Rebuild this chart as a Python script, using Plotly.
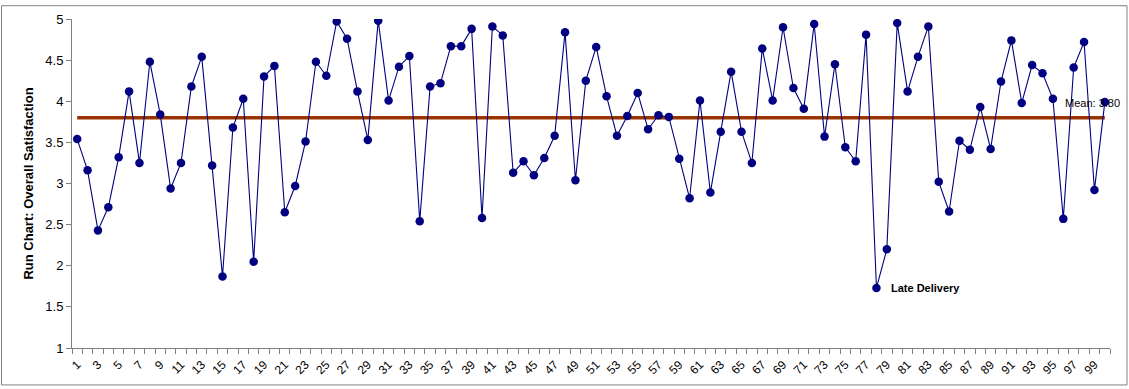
import plotly.graph_objects as go

# ---- data ----
obs = list(range(1, 101))
satisfaction = [
    3.54, 3.16, 2.43, 2.71, 3.32, 4.12, 3.25, 4.48, 3.84, 2.94,
    3.25, 4.18, 4.54, 3.22, 1.87, 3.68, 4.03, 2.05, 4.30, 4.43,
    2.65, 2.97, 3.51, 4.48, 4.31, 4.97, 4.76, 4.12, 3.53, 4.98,
    4.01, 4.42, 4.55, 2.54, 4.18, 4.22, 4.67, 4.67, 4.88, 2.58,
    4.91, 4.80, 3.13, 3.27, 3.10, 3.31, 3.58, 4.84, 3.04, 4.25,
    4.66, 4.06, 3.58, 3.82, 4.10, 3.66, 3.83, 3.81, 3.30, 2.82,
    4.01, 2.89, 3.63, 4.36, 3.63, 3.25, 4.64, 4.01, 4.90, 4.16,
    3.91, 4.94, 3.57, 4.45, 3.44, 3.27, 4.81, 1.73, 2.20, 4.95,
    4.12, 4.54, 4.91, 3.02, 2.66, 3.52, 3.41, 3.93, 3.42, 4.24,
    4.74, 3.98, 4.44, 4.34, 4.03, 2.57, 4.41, 4.72, 2.92, 3.99,
]
MEAN = 3.80
x_tick_vals = list(range(1, 101, 2))
x_tick_text = [str(v) for v in x_tick_vals]
y_tick_vals = [1, 1.5, 2, 2.5, 3, 3.5, 4, 4.5, 5]
y_tick_text = ["1", "1.5", "2", "2.5", "3", "3.5", "4", "4.5", "5"]
annot_index = 78
annot_text = "Late Delivery"
y_title = "Run Chart: Overall Satisfaction"

W, H = 1129, 389
ML, MR, MT, MB = 72, 19, 16, 39
PW, PH = W - ML - MR, H - MT - MB

fig = go.Figure()

fig.add_trace(go.Scatter(
    x=[obs[0], obs[-1]], y=[MEAN, MEAN], mode="lines",
    line=dict(color="#993300", width=3.5), hoverinfo="skip", showlegend=False,
))
fig.add_trace(go.Scatter(
    x=obs, y=satisfaction, mode="lines+markers",
    line=dict(color="#000080", width=1.1),
    marker=dict(color="#000080", size=8.5, line=dict(width=0)),
    showlegend=False,
))

fig.add_annotation(
    x=obs[-1], y=MEAN, text=f"Mean: {MEAN:.2f}", showarrow=False,
    xanchor="right", yanchor="middle", xshift=17, yshift=15,
    font=dict(family="Liberation Sans, Arial", size=11, color="black"),
)
fig.add_annotation(
    x=annot_index, y=satisfaction[annot_index - 1], text=f"<b>{annot_text}</b>",
    showarrow=False, xanchor="left", yanchor="middle", xshift=13,
    font=dict(family="Liberation Sans, Arial", size=11, color="black"),
)

# chart-area border
fig.add_shape(
    type="rect", xref="paper", yref="paper",
    x0=(1.5 - ML) / PW, x1=(1127 - ML) / PW,
    y0=(H - MB - 387.5) / PH, y1=(H - MB - 2.5) / PH,
    line=dict(color="#808080", width=1), fillcolor="rgba(0,0,0,0)", layer="below",
)

fig.update_layout(
    width=W, height=H,
    margin=dict(l=ML, r=MR, t=MT, b=MB),
    paper_bgcolor="white", plot_bgcolor="white",
    font=dict(family="Liberation Sans, Arial", color="black"),
)
fig.update_xaxes(
    range=[0.5, 100.5], tickmode="array", tickvals=x_tick_vals, ticktext=x_tick_text,
    tickangle=-45, tickfont=dict(size=12), ticks="", ticklabelstandoff=4,
    showline=True, linecolor="#808080", linewidth=1, showgrid=False, zeroline=False,
    minor=dict(ticks="outside", tick0=0.5, dtick=1, ticklen=5, tickcolor="#808080", showgrid=False),
)
fig.update_yaxes(
    range=[1, 5], tickmode="array", tickvals=y_tick_vals, ticktext=y_tick_text,
    tickfont=dict(size=13), ticks="outside", ticklen=5, tickcolor="#808080",
    showline=True, linecolor="#808080", linewidth=1, showgrid=False, zeroline=False,
    title=dict(text=f"<b>{y_title}</b>", font=dict(size=13), standoff=8),
)

fig.write_html("out.html", config={"displayModeBar": False},
               post_script="document.body.style.margin='0';")
